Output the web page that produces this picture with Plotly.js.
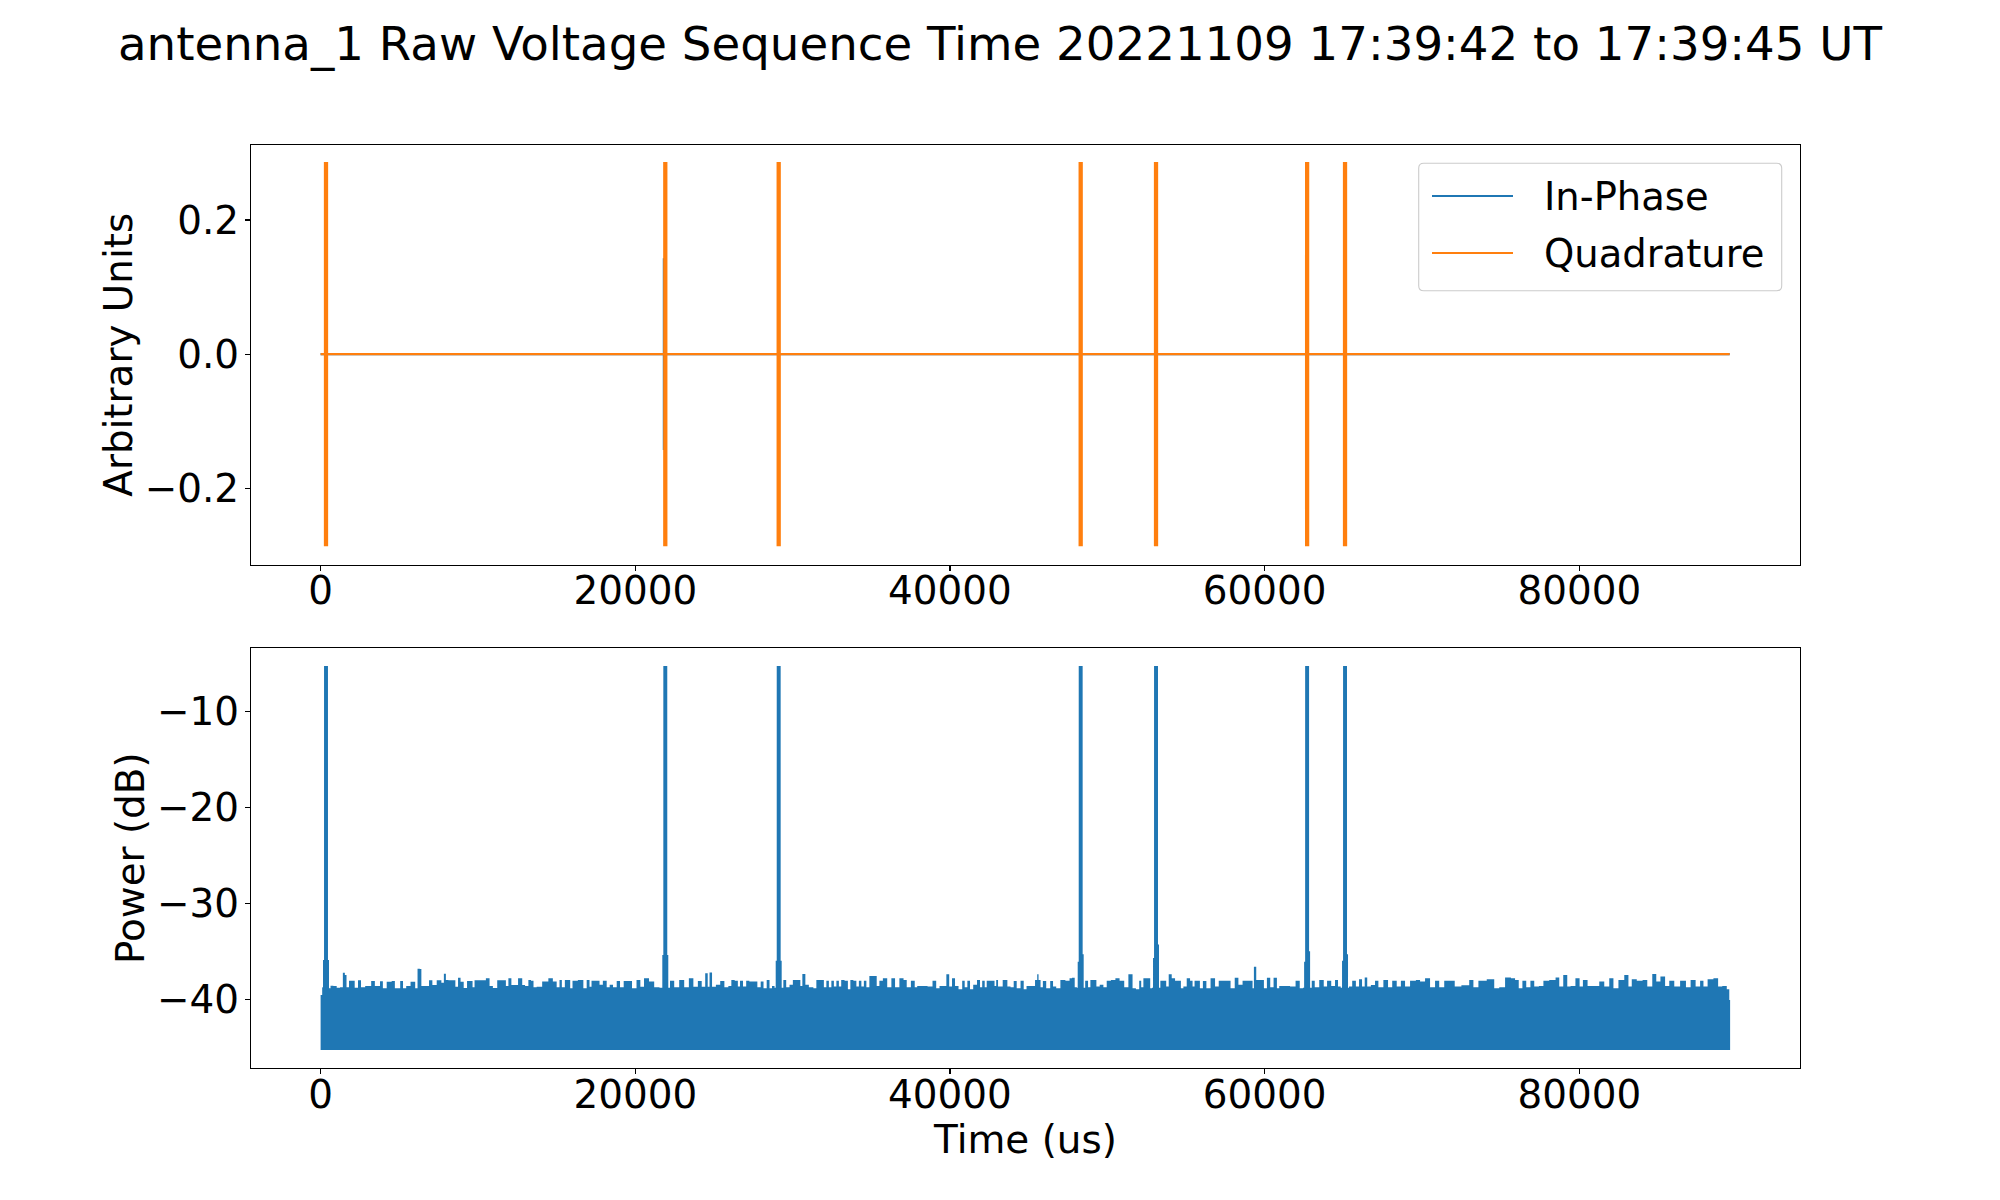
<!DOCTYPE html>
<html>
<head>
<meta charset="utf-8">
<script src="https://cdn.plot.ly/plotly-3.0.1.min.js"></script>
<style>html,body{margin:0;padding:0;background:#fff}</style>
</head>
<body>
<div id="chart" style="width:2000px;height:1200px"></div>
<script>
const chartTitle = "antenna_1 Raw Voltage Sequence Time 20221109 17:39:42 to 17:39:45 UT";
const seriesNames = ["In-Phase", "Quadrature"];
const xTickValues = [0, 20000, 40000, 60000, 80000];
const voltageTicks = [-0.2, 0, 0.2];
const voltageTickLabels = ["\u22120.2", "0.0", "0.2"];
const powerTicks = [-40, -30, -20, -10];
const sequenceEnd = 89556;

// Pulse times (us) and the amplitudes
const pulseTimes = [343, 21908, 29115, 48309, 53097, 62700, 65110];
const inPhaseTimes = [343, 21813, 29115, 48309, 53097, 62700, 65110];
const quadratureAmp = [0.2866, 0.2866, 0.2866, 0.2866, 0.2866, 0.2866, 0.2866];
const inPhaseAmp = [0.12, 0.143, 0.12, 0.12, 0.12, 0.12, 0.12];
const pulsePeakDb = [-5.27, -5.27, -5.27, -5.27, -5.27, -5.27, -5.27];
const shoulderLeftDb = [-35.9, -35.4, -36.0, -36.1, -35.7, -36.1, -36.0];
const shoulderRightDb = [-35.9, -35.4, -36.0, -35.3, -34.3, -35.0, -35.3];
const pulseBaseDb = [-38.8, -38.8, -38.8, -38.8, -38.8, -38.8, -38.8];
const powerFloorDb = -45.28;

// Upper edge of the noise in the power panel
const envTimes = [
0,68,132,556,704,916,1128,1340,1488,1594,
1700,1912,2081,2251,2505,2632,3035,3395,3501,3671,
3882,4031,4370,4666,4773,4942,5175,5302,5578,5853,
5959,6065,6256,6362,6447,6743,7040,7167,7591,7760,
7909,8015,8227,8481,8650,8820,8968,9222,9392,9604,
9710,9858,10346,10664,10812,11087,11363,11723,11829,12041,
12210,12359,12740,12889,13101,13310,13436,13627,13839,14326,
14623,14898,15110,15258,15407,15640,15810,15915,16106,16593,
16805,17017,17166,17272,17653,17801,18077,18289,18458,18712,
18925,19136,19390,19666,19920,20238,20407,20704,21043,21361,
22315,22633,22950,23268,23544,23840,24116,24328,24561,24646,
24794,24964,25282,25515,25811,26021,26190,26445,26593,26720,
26975,27123,27377,27631,27886,28055,28246,28458,28606,28776,
29517,29666,29941,30089,30428,30555,30683,30768,30852,31212,
31424,31594,31912,32060,32230,32378,32548,32696,32866,33014,
33162,33438,33586,33755,33968,34137,34285,34454,34603,34773,
34984,35260,35429,35599,35874,36150,36404,36616,36955,37146,
37358,37676,37845,37993,38417,38733,39051,39199,39475,39729,
39814,39899,40004,40259,40386,40704,40852,41021,41191,41361,
41594,41848,41975,42123,42293,42378,42759,42907,42971,43141,
43564,43734,43967,44136,44348,44624,44751,44984,45302,45514,
45577,45683,45831,45980,46255,46489,46615,46891,47145,47527,
47675,47844,48014,48692,48862,48989,49222,49392,49646,49858,
50070,50388,50642,50918,51235,51446,51552,51658,51976,52082,
52230,52357,52505,52675,52781,53459,53671,53819,53989,54201,
54413,54625,54730,54942,55155,55366,55472,55620,55832,55938,
56214,56383,56744,56955,57210,57422,57697,57972,58227,58439,
58757,59180,59286,59350,59435,59498,59880,60028,60261,60452,
60685,60876,60982,61405,61829,62105,62359,63100,63270,63672,
63842,64096,64369,64581,64750,65429,65704,65895,66107,66276,
66446,66594,66912,67124,67336,67759,67929,68289,68501,68819,
69031,69455,69773,69985,70408,70620,71044,71150,71680,71997,
72167,72845,73163,73375,73799,74434,74752,75070,75494,75811,
76023,76278,76490,76765,77020,77252,77613,77824,78354,78630,
78821,79138,79329,79562,79944,80092,80366,80685,81109,81427,
81745,82062,82275,82699,83016,83228,83440,83864,84182,84458,
84818,84965,85347,85559,85877,86195,86619,86937,87212,87572,
87784,87996,88313,88738,88907,89267,89479,89585
];
const envPower = [
-39.56,-39.56,-38.76,-38.86,-38.58,-38.62,-38.79,-38.76,-37.23,-37.47,
-38.76,-38.06,-38.06,-38.79,-38.03,-38.76,-38.62,-38.10,-38.62,-38.62,
-38.13,-38.86,-38.17,-38.10,-38.86,-38.86,-38.10,-38.86,-38.62,-38.17,
-38.17,-38.86,-36.81,-36.85,-38.62,-38.62,-38.03,-38.51,-38.03,-38.27,
-37.33,-37.99,-38.03,-38.03,-38.69,-37.75,-38.17,-38.83,-38.10,-38.10,
-38.76,-38.03,-38.03,-37.82,-38.62,-38.83,-38.03,-38.03,-38.62,-37.82,
-38.51,-38.51,-37.82,-38.51,-38.62,-38.00,-38.06,-38.75,-38.70,-38.16,
-37.80,-38.16,-38.75,-38.00,-38.75,-38.00,-38.00,-38.85,-38.06,-38.00,
-38.85,-38.00,-38.70,-38.06,-38.06,-38.50,-38.06,-38.75,-38.50,-38.75,
-38.10,-38.75,-38.10,-38.10,-38.85,-38.00,-38.70,-37.80,-38.16,-38.75,
-38.06,-38.75,-38.00,-38.75,-37.80,-38.70,-38.10,-38.70,-37.30,-38.70,
-37.20,-38.70,-38.50,-38.10,-38.75,-38.61,-37.99,-38.06,-38.68,-38.06,
-38.68,-38.06,-38.16,-38.16,-38.75,-38.16,-38.86,-37.99,-38.86,-38.61,
-37.99,-38.75,-38.50,-37.99,-37.99,-38.61,-37.36,-37.36,-38.50,-38.75,
-38.86,-37.99,-37.99,-38.75,-38.06,-38.75,-38.06,-38.68,-38.06,-38.68,
-37.99,-38.06,-38.96,-37.99,-38.06,-38.68,-38.06,-38.68,-38.06,-38.75,
-37.57,-37.57,-38.61,-38.06,-37.81,-38.75,-37.81,-38.75,-37.81,-37.99,
-38.75,-38.06,-38.75,-38.61,-38.61,-38.68,-38.06,-38.86,-38.61,-38.61,
-37.40,-37.40,-38.68,-37.81,-38.61,-38.96,-38.06,-38.75,-38.06,-38.96,
-38.50,-37.99,-38.75,-38.06,-38.75,-38.06,-38.06,-38.61,-37.99,-38.68,
-37.99,-38.68,-38.75,-38.09,-38.86,-38.06,-38.96,-38.61,-38.61,-37.99,
-37.40,-37.99,-38.75,-38.09,-38.86,-38.09,-38.68,-38.86,-37.99,-38.06,
-37.81,-37.75,-38.75,-38.06,-38.75,-37.99,-37.99,-38.68,-38.50,-38.75,
-38.06,-37.99,-37.81,-38.06,-38.75,-37.40,-37.40,-38.86,-38.96,-38.06,
-38.75,-37.81,-37.81,-37.81,-38.86,-38.06,-38.06,-38.68,-37.40,-37.81,
-38.06,-38.06,-38.86,-38.68,-37.81,-38.06,-38.68,-38.06,-38.06,-38.86,
-38.09,-38.86,-37.81,-38.68,-38.06,-38.06,-38.06,-38.86,-37.75,-38.50,
-38.06,-38.06,-38.86,-36.60,-36.60,-37.99,-37.99,-38.86,-37.75,-38.75,
-37.75,-38.86,-38.61,-38.61,-38.68,-38.06,-38.86,-38.06,-38.75,-37.99,
-38.68,-38.06,-38.61,-37.99,-38.68,-38.68,-38.06,-38.68,-37.92,-38.68,
-37.74,-38.68,-38.51,-38.06,-38.75,-37.99,-38.75,-38.06,-38.68,-38.06,
-38.68,-38.06,-37.99,-38.16,-37.81,-38.75,-38.06,-38.75,-38.06,-38.06,
-38.68,-38.54,-37.99,-38.75,-38.06,-37.92,-38.85,-38.75,-37.74,-37.81,
-37.99,-38.85,-38.06,-38.75,-38.06,-38.68,-38.61,-38.06,-37.99,-37.74,
-38.68,-37.47,-38.68,-38.61,-37.81,-38.68,-37.99,-38.61,-38.61,-38.16,
-38.68,-37.81,-38.85,-37.99,-37.47,-38.68,-37.92,-38.06,-37.99,-38.68,
-37.36,-38.16,-37.64,-38.61,-38.06,-38.68,-38.06,-38.75,-37.99,-38.68,
-38.06,-38.68,-37.92,-37.81,-38.68,-38.61,-38.96,-40.07
];

// Build the traces from the arrays above
const pulseHalf = 70, narrowHalf = 125, shoulderHalf = 190;

function voltageSeries(times, amps, half) {
  const x = [0], y = [0];
  times.forEach((t, i) => {
    const a = amps[i];
    x.push(t - half, t - half, t - half, t, t, t + half, t + half, t + half);
    y.push(0, a, -a, a, -a, a, -a, 0);
  });
  x.push(sequenceEnd); y.push(0);
  return {x, y};
}

function powerOutline() {
  const pts = envTimes.map((t, i) => [t, envPower[i]]);
  pulseTimes.forEach((t, i) => {
    pts.push([t - shoulderHalf, pulseBaseDb[i]], [t - shoulderHalf, shoulderLeftDb[i]], [t - narrowHalf, shoulderLeftDb[i]],
             [t - narrowHalf, pulsePeakDb[i]], [t + narrowHalf, pulsePeakDb[i]],
             [t + narrowHalf, shoulderRightDb[i]], [t + shoulderHalf, shoulderRightDb[i]], [t + shoulderHalf, pulseBaseDb[i]]);
  });
  const order = pts.map((p, i) => [p, i]).sort((a, b) => a[0][0] - b[0][0] || a[1] - b[1]);
  const x = order.map(o => o[0][0]), y = order.map(o => o[0][1]);
  const last = x[x.length - 1];
  x.push(last, x[0]); y.push(powerFloorDb, powerFloorDb);
  x.push(x[0]); y.push(y[0]);
  return {x, y};
}

const blue = "#1f77b4", orange = "#ff7f0e";
const iq = voltageSeries(inPhaseTimes, inPhaseAmp, 0);
const qq = voltageSeries(pulseTimes, quadratureAmp, pulseHalf);
const pw = powerOutline();

const font = "DejaVu Sans, sans-serif";
const tickFont = {family: font, size: 38.9, color: "#000"};
const xRange = [-4424, 94027];

const commonAxis = {
  showline: true, mirror: true, linecolor: "#000", linewidth: 1.1,
  ticks: "outside", ticklen: 5, tickwidth: 1.1, tickcolor: "#000",
  showgrid: false, zeroline: false, tickfont: tickFont
};

const traces = [
  {x: iq.x, y: iq.y, name: seriesNames[0], legendgroup: "i", mode: "lines", line: {color: blue, width: 2.08, simplify: false}, xaxis: "x", yaxis: "y", hoverinfo: "skip"},
  {x: qq.x, y: qq.y, name: seriesNames[1], legendgroup: "q", mode: "lines", line: {color: orange, width: 2.08, simplify: false}, xaxis: "x", yaxis: "y", hoverinfo: "skip"},
  {x: pw.x, y: pw.y, name: "Power", mode: "lines", fill: "toself", fillcolor: blue, line: {color: blue, width: 0, shape: "hvh", simplify: false}, xaxis: "x2", yaxis: "y2", showlegend: false, hoverinfo: "skip"}
];

const L = 251, T = 145, W = 1549, H = 923;
const px = v => (v - L) / W, py = v => 1 - (v - T) / H;
const r = 5;
const lx0 = 1418.7, lx1 = 1781.7, ly0 = 163.3, ly1 = 290.7;
const legendFrame = "M " + px(lx0 + r) + " " + py(ly0) + " L " + px(lx1 - r) + " " + py(ly0) +
  " Q " + px(lx1) + " " + py(ly0) + " " + px(lx1) + " " + py(ly0 + r) +
  " L " + px(lx1) + " " + py(ly1 - r) +
  " Q " + px(lx1) + " " + py(ly1) + " " + px(lx1 - r) + " " + py(ly1) +
  " L " + px(lx0 + r) + " " + py(ly1) +
  " Q " + px(lx0) + " " + py(ly1) + " " + px(lx0) + " " + py(ly1 - r) +
  " L " + px(lx0) + " " + py(ly0 + r) +
  " Q " + px(lx0) + " " + py(ly0) + " " + px(lx0 + r) + " " + py(ly0) + " Z";

const layout = {
  width: 2000, height: 1200,
  paper_bgcolor: "#fff", plot_bgcolor: "#fff",
  margin: {l: L, r: 200, t: T, b: 132, pad: 0},
  font: {family: font, color: "#000"},
  title: {text: chartTitle, font: {family: font, size: 46.7, color: "#000"}, x: 0.5, xanchor: "center", y: 0.977, yanchor: "top", pad: {t: 0, b: 0}},
  xaxis: Object.assign({}, commonAxis, {domain: [0, 1], range: xRange, anchor: "y", tickvals: xTickValues, ticktext: xTickValues.map(String), ticklabelstandoff: -13}),
  yaxis: Object.assign({}, commonAxis, {domain: [0.5455, 1], range: [-0.3137, 0.3118], anchor: "x", tickvals: voltageTicks, ticktext: voltageTickLabels, ticklabelstandoff: -2,
    title: {text: "Arbitrary Units", font: tickFont, standoff: 0}}),
  xaxis2: Object.assign({}, commonAxis, {domain: [0, 1], range: xRange, anchor: "y2", tickvals: xTickValues, ticktext: xTickValues.map(String), ticklabelstandoff: -13,
    title: {text: "Time (us)", font: tickFont, standoff: 7}}),
  yaxis2: Object.assign({}, commonAxis, {domain: [0, 0.4545], range: [-47.16, -3.46], anchor: "x2", tickvals: powerTicks, ticklabelstandoff: -2}),
  annotations: [{text: "Power (dB)", xref: "paper", yref: "paper", x: px(130), y: py(858), xanchor: "center", yanchor: "middle", textangle: -90, showarrow: false, font: tickFont}],
  legend: {x: px(1427), y: py(164.5), xanchor: "left", yanchor: "top", bgcolor: "rgba(0,0,0,0)", borderwidth: 0,
    font: {family: font, size: 38.5, color: "#000"}, itemwidth: 81, itemclick: false, itemdoubleclick: false, traceorder: "grouped", tracegroupgap: 4},
  shapes: [{type: "path", xref: "paper", yref: "paper", path: legendFrame, line: {color: "#ccc", width: 1.1}, fillcolor: "rgba(255,255,255,0.8)", layer: "below"}]
};

Plotly.newPlot("chart", traces, layout, {displayModeBar: false, staticPlot: true}).then(() => {
  document.querySelectorAll("#chart .legend .scrollbox").forEach(s => s.removeAttribute("clip-path"));
  document.querySelectorAll("#chart .legend").forEach(s => s.removeAttribute("clip-path"));
  document.querySelectorAll("#chart .legendtext").forEach(t => {
    t.setAttribute("x", parseFloat(t.getAttribute("x")) + 26);
    t.setAttribute("y", parseFloat(t.getAttribute("y")) - 1.5);
  });
});
</script>
</body>
</html>
